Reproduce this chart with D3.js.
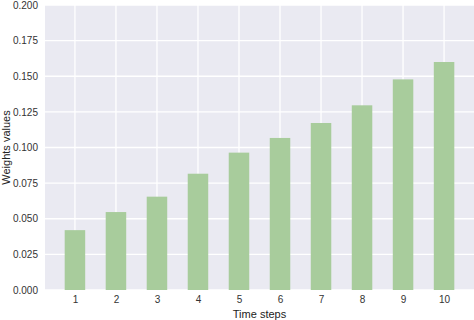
<!DOCTYPE html>
<html><head><meta charset="utf-8">
<script src="https://cdn.jsdelivr.net/npm/d3@7"></script>
<style>html,body{margin:0;padding:0;background:#fff;}svg{display:block;}</style>
</head><body>
<script>
const categories = ["1","2","3","4","5","6","7","8","9","10"];
const values = [0.042, 0.0547, 0.0655, 0.0816, 0.0964, 0.1067, 0.1172, 0.1296, 0.1478, 0.160];
const yTicks = [0, 0.025, 0.05, 0.075, 0.1, 0.125, 0.15, 0.175, 0.2];

const W = 474, H = 320;
const m = {left: 45, right: 0, top: 5, bottom: 30};
const svg = d3.select("body").append("svg").attr("width", W).attr("height", H);
const font = "'Liberation Sans', Arial, sans-serif";

const x = d3.scalePoint().domain(categories).range([m.left, W - m.right]).padding(0.73);
const y = d3.scaleLinear().domain([0, 0.2]).range([H - m.bottom, m.top]);

svg.append("rect").attr("x", m.left).attr("y", m.top)
  .attr("width", W - m.right - m.left).attr("height", H - m.bottom - m.top)
  .attr("fill", "#EAEAF2");

// grid
svg.append("g").selectAll("line").data(yTicks).join("line")
  .attr("x1", m.left).attr("x2", W - m.right)
  .attr("y1", d => y(d)).attr("y2", d => y(d))
  .attr("stroke", "#fff").attr("stroke-width", 1.3);
svg.append("g").selectAll("line").data(categories).join("line")
  .attr("x1", d => x(d)).attr("x2", d => x(d))
  .attr("y1", m.top).attr("y2", H - m.bottom)
  .attr("stroke", "#fff").attr("stroke-width", 1.3);

const bw = x.step() * 0.5;
svg.append("g").selectAll("rect").data(values).join("rect")
  .attr("x", (d, i) => x(categories[i]) - bw / 2)
  .attr("width", bw)
  .attr("y", d => y(d))
  .attr("height", d => y(0) - y(d))
  .attr("fill", "#A8CC9C");

// axes
const yAxis = svg.append("g").attr("transform", `translate(${m.left},0)`)
  .call(d3.axisLeft(y).tickValues(yTicks).tickFormat(d3.format(".3f")).tickSize(0).tickPadding(7));
const xAxis = svg.append("g").attr("transform", `translate(0,${H - m.bottom})`)
  .call(d3.axisBottom(x).tickSize(0).tickPadding(6));
[yAxis, xAxis].forEach(a => {
  a.select(".domain").remove();
  a.selectAll("text").attr("font-family", font).attr("font-size", 10).attr("fill", "#333");
});

svg.append("text").attr("x", (m.left + W - m.right) / 2).attr("y", 318)
  .attr("text-anchor", "middle").attr("font-family", font).attr("font-size", 11).attr("fill", "#222")
  .text("Time steps");
svg.append("text").attr("transform", `translate(10,${(m.top + H - m.bottom) / 2}) rotate(-90)`)
  .attr("text-anchor", "middle").attr("font-family", font).attr("font-size", 11).attr("fill", "#222")
  .text("Weights values");
</script>
</body></html>
